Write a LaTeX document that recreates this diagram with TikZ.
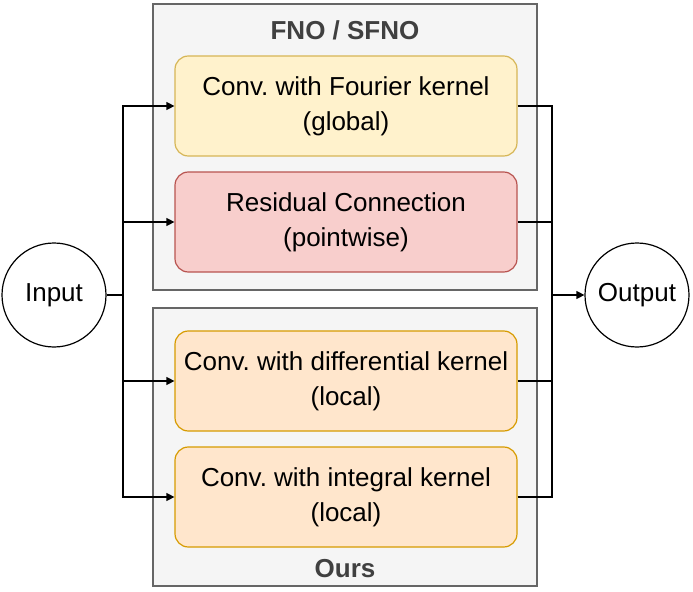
\documentclass[tikz,border=0pt]{standalone}
\usepackage{fontspec}
\setmainfont{Liberation Sans}
\frenchspacing
\usetikzlibrary{arrows.meta}
\definecolor{grayf}{HTML}{F5F5F5}\definecolor{grays}{HTML}{666666}
\definecolor{yf}{HTML}{FFF2CC}\definecolor{ys}{HTML}{D6B656}
\definecolor{rf}{HTML}{F8CECC}\definecolor{rs}{HTML}{B85450}
\definecolor{of}{HTML}{FFE6CC}\definecolor{os}{HTML}{D79B00}
\begin{document}
\begin{tikzpicture}[x=0.75pt,y=-0.75pt,
 grp/.style={draw=grays,fill=grayf,line width=0.9pt},
 blk/.style={rounded corners=10pt,line width=0.9pt,minimum width=342*0.75pt,minimum height=100*0.75pt,align=center,font=\fontsize{19.5}{26}\selectfont},
 circ/.style={circle,draw,line width=0.9pt,minimum size=104*0.75pt,inner sep=0pt,font=\fontsize{19.5}{26}\selectfont},
 ar/.style={-{Triangle[length=6pt,width=6pt]},line width=0.9pt},
 ln/.style={line width=0.9pt}]
\useasboundingbox (0,0) rectangle (693,592);
\draw[grp] (153,4) rectangle (537,290);
\draw[grp] (153,308) rectangle (537,586);
\node[font=\fontsize{19.5}{26}\selectfont\bfseries,text=black!75] (t1) at (345,30) {FNO / SFNO};
\node[font=\fontsize{19.5}{26}\selectfont\bfseries,text=black!75] (t2) at (345,569) {Ours};
\node[blk,draw=ys,fill=yf] (a) at (346,106) {Conv. with Fourier kernel\\(global)};
\node[blk,draw=rs,fill=rf] (b) at (346,222) {Residual Connection\\(pointwise)};
\node[blk,draw=os,fill=of] (c) at (346,381) {Conv. with differential kernel\\(local)};
\node[blk,draw=os,fill=of] (d) at (346,497) {Conv. with integral kernel\\(local)};
\node[circ] (in) at (54,295) {Input};
\node[circ] (out) at (637,295) {Output};
\coordinate (j) at (123,295);
\coordinate (k) at (552,295);
\draw[ln] (in) -- (j);
\foreach \n in {a,b,c,d}{
 \draw[ar] (j) |- (\n.west);
 \draw[ln] (\n.east) -| (k);
}
\draw[ar] (k) -- (out);
\end{tikzpicture}
\end{document}
